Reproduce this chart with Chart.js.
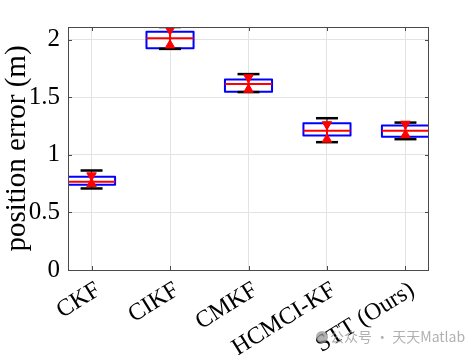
<!DOCTYPE html>
<html>
<head>
<meta charset="utf-8">
<script src="https://cdn.jsdelivr.net/npm/chart.js@4/dist/chart.umd.min.js"></script>
<style>
html,body{margin:0;padding:0;background:#fff;}
#wrap{width:474px;height:355px;position:relative;}
</style>
</head>
<body>
<div id="wrap"><canvas id="c" width="474" height="355"></canvas></div>
<script>
// ---- data ----
const categories = ['CKF', 'CIKF', 'CMKF', 'HCMCI-KF', 'STT (Ours)'];
const whiskerHigh = [0.864, 2.110, 1.701, 1.318, 1.280];
const q3          = [0.810, 2.068, 1.655, 1.274, 1.254];
const median      = [0.766, 2.013, 1.615, 1.210, 1.210];
const q1          = [0.740, 1.926, 1.548, 1.167, 1.158];
const whiskerLow  = [0.708, 1.920, 1.545, 1.110, 1.136];
const markerHigh  = [0.820, 2.087, 1.671, 1.264, 1.268];
const markerLow   = [0.749, 1.952, 1.567, 1.134, 1.173];
const yTicks = [0, 0.5, 1, 1.5, 2];
const yTitle = 'position error (m)';
const watermark = '公众号 · 天天Matlab';

const BOX_HALF = 0.3, CAP_HALF = 0.14;
const SERIF = "'Liberation Serif', 'Times New Roman', serif";

const datasets = [];
categories.forEach((c, i) => {
  const x = i + 1;
  datasets.push({ // box
    data: [{x: x - BOX_HALF, y: q1[i]}, {x: x + BOX_HALF, y: q1[i]}, {x: x + BOX_HALF, y: q3[i]}, {x: x - BOX_HALF, y: q3[i]}, {x: x - BOX_HALF, y: q1[i]}],
    borderColor: '#0000ff', borderWidth: 2, pointRadius: 0, showLine: true, borderJoinStyle: 'round', order: 4
  });
  datasets.push({ // whisker up
    data: [{x: x, y: q3[i]}, {x: x, y: whiskerHigh[i]}],
    borderColor: '#000', borderWidth: 1, pointRadius: 0, showLine: true, order: 5
  });
  datasets.push({ // whisker down
    data: [{x: x, y: q1[i]}, {x: x, y: whiskerLow[i]}],
    borderColor: '#000', borderWidth: 1, pointRadius: 0, showLine: true, order: 5
  });
  datasets.push({ // cap high
    data: [{x: x - CAP_HALF, y: whiskerHigh[i]}, {x: x + CAP_HALF, y: whiskerHigh[i]}],
    borderColor: '#000', borderWidth: 2.5, pointRadius: 0, showLine: true, order: 3
  });
  datasets.push({ // cap low
    data: [{x: x - CAP_HALF, y: whiskerLow[i]}, {x: x + CAP_HALF, y: whiskerLow[i]}],
    borderColor: '#000', borderWidth: 2.5, pointRadius: 0, showLine: true, order: 3
  });
  datasets.push({ // median
    data: [{x: x - BOX_HALF, y: median[i]}, {x: x + BOX_HALF, y: median[i]}],
    borderColor: '#ff0000', borderWidth: 2, pointRadius: 0, showLine: true, order: 2
  });
  datasets.push({ // red marker bar
    data: [{x: x, y: markerHigh[i]}, {x: x, y: markerLow[i]}],
    borderColor: '#ff0000', borderWidth: 2, showLine: true,
    pointStyle: 'triangle', pointRadius: 5.5, pointRotation: [180, 0],
    pointBackgroundColor: '#ff0000', pointBorderColor: '#ff0000', pointBorderWidth: 1, order: 1
  });
});

const framePlugin = {
  id: 'frame',
  afterDatasetsDraw(chart) {
    const {ctx, chartArea: a, scales} = chart;
    ctx.save();
    ctx.strokeStyle = '#4a4a4a';
    ctx.lineWidth = 1;
    ctx.strokeRect(a.left + 0.5, a.top + 0.5, a.right - a.left - 1, a.bottom - a.top);
    ctx.beginPath();
    scales.y.ticks.forEach(t => {
      const py = Math.round(scales.y.getPixelForValue(t.value)) + 0.5;
      ctx.moveTo(a.left, py); ctx.lineTo(a.left + 4, py);
      ctx.moveTo(a.right, py); ctx.lineTo(a.right - 4, py);
    });
    scales.x.ticks.forEach(t => {
      const px = Math.round(scales.x.getPixelForValue(t.value)) + 0.5;
      ctx.moveTo(px, a.bottom); ctx.lineTo(px, a.bottom - 4);
      ctx.moveTo(px, a.top); ctx.lineTo(px, a.top + 4);
    });
    ctx.stroke();
    ctx.restore();
  },
  afterDraw(chart) {
    const ctx = chart.ctx;
    ctx.save();
    ctx.fillStyle = 'rgba(150,150,150,0.75)';
    ctx.font = "14px 'Noto Sans CJK SC', sans-serif";
    ctx.textBaseline = 'middle';
    ctx.textAlign = 'left';
    ctx.fillText(watermark, 330, 337);
    ctx.beginPath();
    ctx.arc(322, 337, 6, 0, Math.PI * 2);
    ctx.fill();
    ctx.restore();
  }
};

new Chart(document.getElementById('c'), {
  type: 'scatter',
  data: { datasets },
  plugins: [framePlugin],
  options: {
    responsive: false,
    animation: false,
    devicePixelRatio: 1,
    layout: { padding: { left: 0, top: 27, right: 45, bottom: 0 } },
    plugins: { legend: { display: false }, tooltip: { enabled: false } },
    scales: {
      x: {
        type: 'linear', min: 0.7, max: 5.3,
        afterBuildTicks(s) { s.ticks = categories.map((c, i) => ({ value: i + 1 })); },
        afterFit(s) { s.height = 85; },
        grid: { color: '#e3e3e3', drawTicks: false },
        border: { display: false },
        ticks: {
          callback: (v) => categories[Math.round(v) - 1],
          minRotation: 32, maxRotation: 32, padding: 6, labelOffset: 7,
          color: '#000', font: { family: SERIF, size: 24 }
        }
      },
      y: {
        type: 'linear', min: 0, max: 2.11,
        afterBuildTicks(s) { s.ticks = yTicks.map(v => ({ value: v })); },
        afterFit(s) { s.width = 68; },
        grid: { color: '#e3e3e3', drawTicks: false },
        border: { display: false },
        ticks: {
          callback: (v) => String(v), padding: 8,
          color: '#000', font: { family: SERIF, size: 25 }
        },
        title: {
          display: true, text: yTitle, color: '#000', padding: 0,
          font: { family: SERIF, size: 29 }
        }
      }
    }
  }
});
</script>
</body>
</html>
